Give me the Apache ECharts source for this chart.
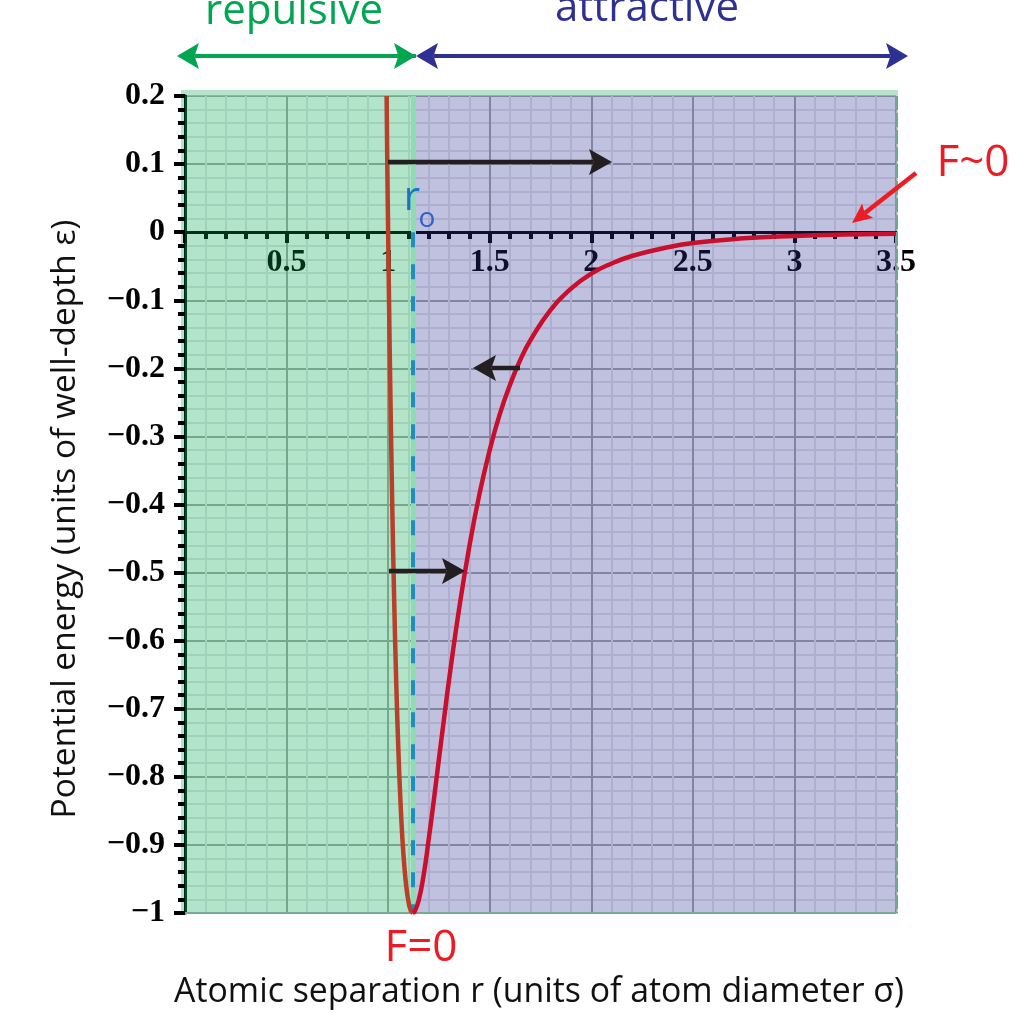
<!DOCTYPE html>
<html>
<head>
<meta charset="utf-8">
<style>html,body{margin:0;padding:0;background:#fff}#chart{width:1024px;height:1019px}</style>
<script src="https://cdn.jsdelivr.net/npm/echarts@6/dist/echarts.min.js"></script>
</head>
<body>
<div id="chart"></div>
<script>
// curve, split at r0 because the two parts have different colours
var rLeft = [0.9925, 0.996, 1.0, 1.005, 1.01, 1.02, 1.03, 1.04, 1.05, 1.06, 1.07, 1.08, 1.09, 1.10, 1.11, 1.122];
var uLeft = [0.2, 0.095, 0, -0.115, -0.218, -0.398, -0.544, -0.663, -0.757, -0.832, -0.89, -0.932, -0.963, -0.983, -0.995, -1];
var rRight = [1.122, 1.13, 1.15, 1.175, 1.2, 1.225, 1.25, 1.275, 1.3, 1.35, 1.4, 1.45, 1.5, 1.55, 1.6, 1.65, 1.7, 1.8, 1.9, 2.0, 2.1, 2.2, 2.35, 2.5, 2.75, 3.0, 3.25, 3.5];
var uRight = [-1, -0.998, -0.982, -0.944, -0.891, -0.834, -0.774, -0.715, -0.657, -0.552, -0.461, -0.384, -0.32, -0.267, -0.224, -0.188, -0.159, -0.114, -0.083, -0.061, -0.046, -0.035, -0.024, -0.016, -0.009, -0.0055, -0.0034, -0.0022];
var r0 = 1.122;
var xTicks = {min: 0, max: 3.5, step: 0.5};
var yTicks = {min: -1, max: 0.2, step: 0.1};

function zip(a, b) {
    return a.map(function (v, i) { return [v, b[i]]; });
}

// straight arrow with a notched head, pixels
function arrow(x1, y1, x2, y2, color, lw, len, half) {
    var d = Math.sqrt((x2 - x1) * (x2 - x1) + (y2 - y1) * (y2 - y1));
    var ux = (x2 - x1) / d, uy = (y2 - y1) / d;
    return [{
        type: 'line', z: 50,
        shape: {x1: x1, y1: y1, x2: x2 - ux * len * 0.8, y2: y2 - uy * len * 0.8},
        style: {stroke: color, lineWidth: lw}
    }, {
        type: 'polygon', z: 51,
        shape: {points: [
            [x2, y2],
            [x2 - ux * len - uy * half, y2 - uy * len + ux * half],
            [x2 - ux * len * 0.8, y2 - uy * len * 0.8],
            [x2 - ux * len + uy * half, y2 - uy * len - ux * half]
        ]},
        style: {fill: color}
    }];
}

function label(text, x, y, size, color, rotation) {
    return {
        type: 'text', z: 52, x: x, y: y, rotation: rotation || 0,
        style: {
            text: text, fill: color, align: 'center', verticalAlign: 'middle',
            font: size + 'px "Open Sans", sans-serif'
        }
    };
}

var GREEN = '#00a651', BLUE = '#2e3192', RED = '#ed1c24', BLACK = '#231f20';

var graphics = [
    // light green sheet sticking out behind the plot
    {type: 'rect', z: -1, shape: {x: 181, y: 90, width: 717, height: 824}, style: {fill: '#b5e3cc'}},
    label('repulsive', 294, 12, 42, GREEN),
    label('attractive', 647, 9, 42, BLUE),
    label('F=0', 421, 948, 44, RED),
    label('F~0', 973, 163, 44, RED),
    label('Atomic separation r (units of atom diameter σ)', 539, 992, 33.8, '#111'),
    label('Potential energy (units of well-depth ε)', 65, 519, 33.5, '#111', Math.PI / 2),
    label('r', 412, 199, 40, '#1c75bc'),
    label('o', 427, 219, 28, '#2f5fd0')
]
    .concat(arrow(416, 56, 177, 56, GREEN, 4, 22, 13))
    .concat(arrow(198, 56, 416, 56, GREEN, 4, 22, 13))
    .concat(arrow(890, 56, 416, 56, BLUE, 4, 22, 13))
    .concat(arrow(436, 56, 908, 56, BLUE, 4, 22, 13))
    .concat(arrow(388, 162, 612, 162, BLACK, 4.5, 23, 13))
    .concat(arrow(520, 368, 473, 368, BLACK, 4.5, 23, 13))
    .concat(arrow(389, 571, 465, 571, BLACK, 4.5, 23, 13))
    .concat(arrow(916, 173, 852, 223, RED, 4.5, 20, 9));

var tickFont = {fontFamily: '"Liberation Serif", serif', fontWeight: 'bold', fontSize: 32, color: '#000'};

var chart = echarts.init(document.getElementById('chart'));
var option = {
    animation: false,
    backgroundColor: '#fff',
    grid: {left: 185, right: 128, top: 96, bottom: 106, show: true, backgroundColor: '#fff', borderWidth: 0},
    xAxis: {
        type: 'value',
        min: xTicks.min, max: xTicks.max, interval: xTicks.step,
        // zero line of the y axis, labels have to stay with it
        offset: -681,
        axisLine: {onZero: false, lineStyle: {color: '#000', width: 3}},
        axisTick: {length: 11, lineStyle: {color: '#000', width: 4}},
        minorTick: {show: true, splitNumber: 5, length: 7, lineStyle: {color: '#000', width: 4}},
        splitLine: {show: true, lineStyle: {color: '#a8a8a8', width: 2}},
        minorSplitLine: {show: true, lineStyle: {color: '#e6e6e8', width: 2}},
        axisLabel: Object.assign({margin: 15, formatter: function (v) { return v === 0 ? '' : String(v); }}, tickFont)
    },
    yAxis: {
        type: 'value',
        min: yTicks.min, max: yTicks.max, interval: yTicks.step,
        axisLine: {show: true, onZero: false, lineStyle: {color: '#00261a', width: 3}},
        axisTick: {show: true, length: 11, lineStyle: {color: '#000', width: 4}},
        minorTick: {show: true, splitNumber: 5, length: 7, lineStyle: {color: '#000', width: 4}},
        splitLine: {show: true, lineStyle: {color: '#a8a8a8', width: 2}},
        minorSplitLine: {show: true, lineStyle: {color: '#e6e6e8', width: 2}},
        axisLabel: Object.assign({margin: 20, formatter: function (v) { return String(v).replace('-', '\u2212'); }}, tickFont)
    },
    series: [
        {
            type: 'line',
            data: zip(rLeft, uLeft),
            symbol: 'none',
            smooth: 0.5,
            z: 3,
            lineStyle: {color: '#b8402a', width: 4.5},
            markLine: {
                silent: true, symbol: 'none', label: {show: false}, z: 2,
                data: [
                    [{coord: [r0, 0.2], lineStyle: {color: '#8fdcb3', width: 5, type: 'solid'}}, {coord: [r0, -1]}],
                    [{coord: [r0, 0], lineStyle: {color: '#1c8fbd', width: 4, type: [15, 17]}}, {coord: [r0, -1]}],
                    [{coord: [3.5, 0.2], lineStyle: {color: '#6da88f', width: 3, type: [14, 3]}}, {coord: [3.5, -1]}],
                    [{coord: [0, -1], lineStyle: {color: '#78ab94', width: 2, type: 'solid'}}, {coord: [3.5, -1]}]
                ]
            }
        },
        {
            type: 'line',
            data: zip(rRight, uRight),
            symbol: 'none',
            smooth: 0.5,
            z: 3,
            lineStyle: {color: '#c8102e', width: 4.5},
            markArea: {
                silent: true, z: 1,
                data: [
                    [{xAxis: 0, yAxis: -1, itemStyle: {color: 'rgba(0,166,81,0.3)'}}, {xAxis: r0, yAxis: 0.2}],
                    [{xAxis: r0, yAxis: -1, itemStyle: {color: 'rgba(46,49,146,0.3)'}}, {xAxis: 3.5, yAxis: 0.2}]
                ]
            }
        }
    ],
    graphic: graphics
};
chart.setOption(option);
</script>
</body>
</html>
